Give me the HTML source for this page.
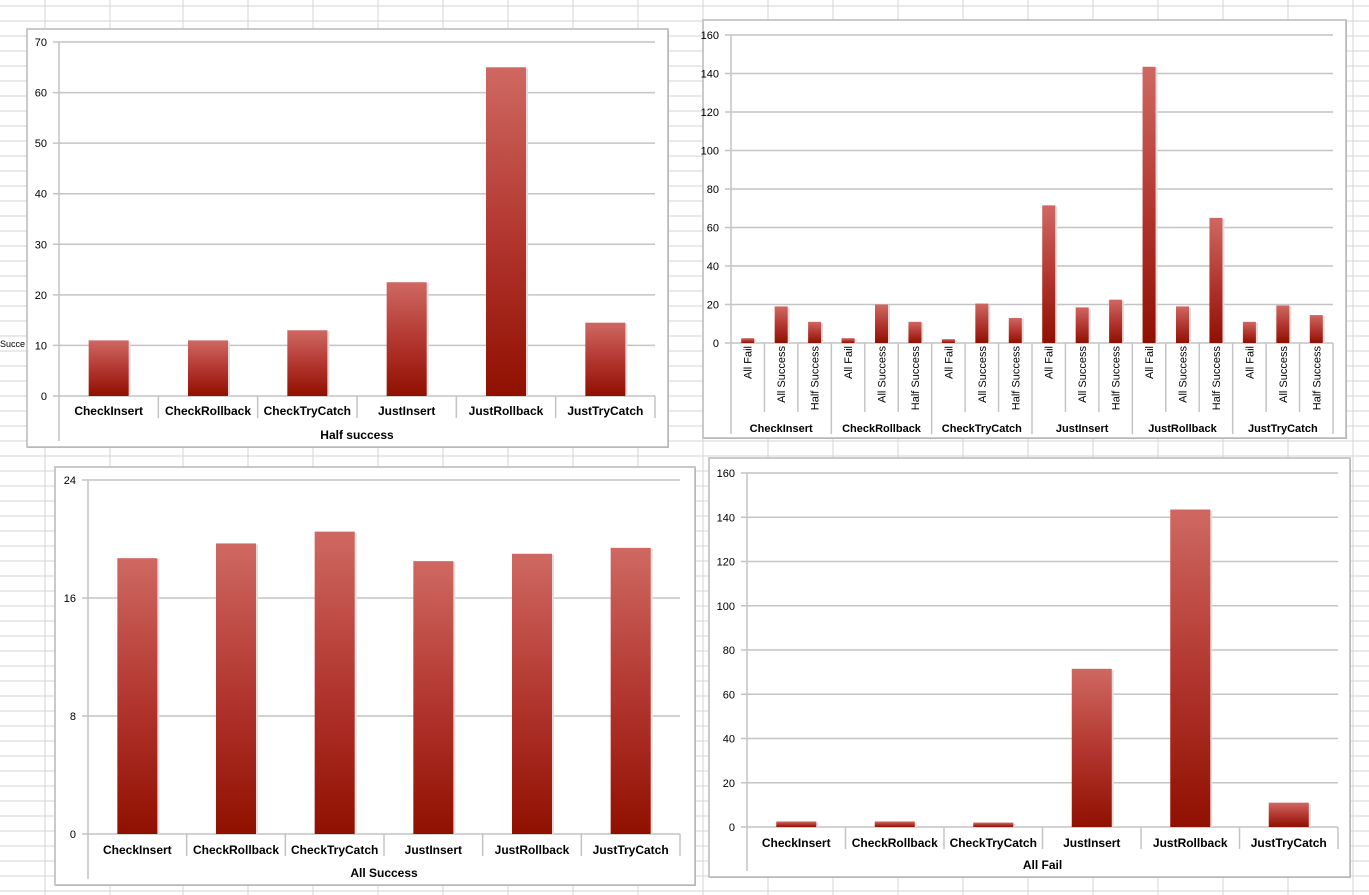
<!DOCTYPE html>
<html><head><meta charset="utf-8">
<style>
html,body{margin:0;padding:0;background:#fff;}
svg{display:block;font-family:"Liberation Sans",sans-serif;}
</style></head>
<body>
<svg id="s" width="1369" height="895" xmlns="http://www.w3.org/2000/svg">
<defs>
<linearGradient id="g" x1="0" y1="0" x2="0" y2="1">
<stop offset="0" stop-color="#cf6862"/>
<stop offset="0.55" stop-color="#b0332c"/>
<stop offset="1" stop-color="#901000"/>
</linearGradient>
</defs>
</svg>
<script>
const s=document.getElementById('s');
let h='';
// spreadsheet grid
for(let y=6;y<895;y+=15) h+=`<line x1="0" y1="${y}" x2="1369" y2="${y}" stroke="#d4d4d4" stroke-width="1"/>`;
const cols=[45,110,183,248,313,378,443,508,573,638,703,768,833,898,963,1028,1093,1158,1223,1288,1353];
for(const x of cols) h+=`<line x1="${x}" y1="0" x2="${x}" y2="895" stroke="#d4d4d4" stroke-width="1"/>`;
h+=`<text x="0" y="347" font-size="9" fill="#000">Succe</text>`;

function chart(o){
  const [bx,by,bw,bh]=o.box;
  h+=`<rect x="${bx+1}" y="${by+1}" width="${bw}" height="${bh}" fill="#bbb"/>`;
  h+=`<rect x="${bx}" y="${by}" width="${bw}" height="${bh}" fill="#fff" stroke="#b8b8b8" stroke-width="1.5"/>`;
  const {ax,ay0,ayTop,gx2,max,step,ticks}=o;
  for(let i=0;i<ticks.length;i++){
    const v=ticks[i], y=ay0-(ay0-ayTop)*v/max;
    h+=`<line x1="${ax-6}" y1="${y}" x2="${gx2}" y2="${y}" stroke="#c4c4c4" stroke-width="1.5"/>`;
    h+=`<text x="${ax-12}" y="${y+4}" font-size="11" text-anchor="end">${v}</text>`;
  }
  h+=`<line x1="${ax}" y1="${ayTop}" x2="${ax}" y2="${o.axBottom}" stroke="#c4c4c4" stroke-width="1.5"/>`;
  const n=o.vals.length, sw=(gx2-ax)/n;
  for(let i=0;i<n;i++){
    const cx=ax+sw*(i+0.5), top=ay0-(ay0-ayTop)*o.vals[i]/max;
    h+=`<rect x="${cx-o.bw/2+2}" y="${top+1}" width="${o.bw}" height="${ay0-top-1}" fill="#ddd"/>`;
    h+=`<rect x="${cx-o.bw/2}" y="${top}" width="${o.bw}" height="${ay0-top}" fill="url(#g)"/>`;
  }
  o.after(sw);
}
const cats=["CheckInsert","CheckRollback","CheckTryCatch","JustInsert","JustRollback","JustTryCatch"];
function simple(o,labY,titY,title,sepBot){
  chart(Object.assign(o,{after:(sw)=>{
    for(let i=1;i<=6;i++){const x=o.ax+sw*i;h+=`<line x1="${x}" y1="${o.ay0}" x2="${x}" y2="${sepBot}" stroke="#c4c4c4" stroke-width="1.5"/>`;}
    for(let i=0;i<6;i++) h+=`<text x="${o.ax+sw*(i+0.5)}" y="${labY}" font-size="12" font-weight="bold" text-anchor="middle">${cats[i]}</text>`;
    h+=`<text x="${(o.ax+o.gx2)/2}" y="${titY}" font-size="12" font-weight="bold" text-anchor="middle">${title}</text>`;
  }}));
}
simple({box:[27,29,641,418],ax:59,ay0:396,ayTop:42,gx2:655,max:70,ticks:[0,10,20,30,40,50,60,70],axBottom:441,bw:40,vals:[11,11,13,22.5,65,14.5]},415,439,"Half success",418);
simple({box:[55,467,640,418],ax:88,ay0:834,ayTop:480,gx2:680,max:24,ticks:[0,8,16,24],axBottom:879,bw:40,vals:[18.7,19.7,20.5,18.5,19,19.4]},854,877,"All Success",856);
simple({box:[709,458,641,419],ax:747,ay0:827,ayTop:473,gx2:1338,max:160,ticks:[0,20,40,60,80,100,120,140,160],axBottom:871,bw:40,vals:[2.5,2.5,2,71.5,143.5,11]},847,869,"All Fail",849);
// chart 2
const v2=[2.5,19,11,2.5,20,11,2,20.5,13,71.5,18.5,22.5,143.5,19,65,11,19.5,14.5];
chart({box:[703,20,643,418],ax:731,ay0:343,ayTop:35,gx2:1333,max:160,ticks:[0,20,40,60,80,100,120,140,160],axBottom:434,bw:13,vals:v2,after:(sw)=>{
  const sub=["All Fail","All Success","Half Success"];
  for(let i=1;i<=18;i++){const x=731+sw*i;h+=`<line x1="${x}" y1="343" x2="${x}" y2="${i%3==0?434:412}" stroke="#c4c4c4" stroke-width="1.5"/>`;}
  for(let i=0;i<18;i++){const x=731+sw*(i+0.5)+4;h+=`<text transform="translate(${x},346) rotate(-90)" font-size="11" text-anchor="end">${sub[i%3]}</text>`;}
  for(let i=0;i<6;i++) h+=`<text x="${731+sw*(3*i+1.5)}" y="432" font-size="11" font-weight="bold" text-anchor="middle">${cats[i]}</text>`;
}});
s.insertAdjacentHTML('beforeend',h);
</script>
</body></html>
